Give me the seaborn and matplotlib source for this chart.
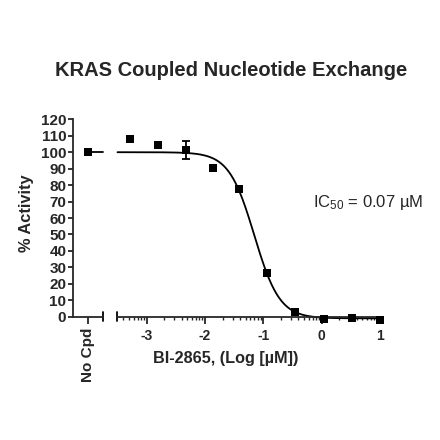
import numpy as np
import pandas as pd
import matplotlib
matplotlib.use("Agg")
import matplotlib.pyplot as plt
import seaborn as sns

# measured points, log10 of concentration in uM
log_conc = [-3.29, -2.80, -2.33, -1.86, -1.41, -0.93, -0.46, 0.04, 0.52, 1.00]
activity = [107.8, 104.6, 101.3, 90.4, 77.4, 26.4, 2.9, -1.2, -1.0, -2.0]
err = [0, 0, 5.6, 0, 0, 0, 0, 0, 0, 0]

# no compound control
ctrl_label = ["No Cpd"]
ctrl_value = [100.3]

# 4PL fit parameters (IC50 = 0.07 uM)
fit_top = 100.0
fit_bottom = -1.0
ic50_um = 0.07
hill = 2.0

y_ticks = list(range(0, 121, 10))
x_ticks = [-3, -2, -1, 0, 1]

sns.set_style("ticks")
plt.rcParams["font.family"] = ["Liberation Sans", "DejaVu Sans"]
plt.rcParams["mathtext.default"] = "regular"
plt.rcParams["axes.unicode_minus"] = False

fig = plt.figure(figsize=(4.4, 4.4), dpi=100)
W = H = 440.0
ax_l = fig.add_axes([72.5 / W, 1 - 316.7 / H, 30.5 / W, 197.4 / H])
ax = fig.add_axes([117.5 / W, 1 - 316.7 / H, 262.5 / W, 197.4 / H])

lw = 1.3
df = pd.DataFrame({"logc": log_conc, "act": activity, "err": err})

# fitted curve
xs = np.linspace(-3.5, 1.0, 400)
ys = fit_bottom + (fit_top - fit_bottom) / (1 + 10 ** ((xs - np.log10(ic50_um)) * hill))
fit = pd.DataFrame({"logc": xs, "act": ys})
sns.lineplot(data=fit, x="logc", y="act", ax=ax, color="black", linewidth=1.3,
             estimator=None, sort=True, clip_on=False)

sns.scatterplot(data=df, x="logc", y="act", ax=ax, marker="s", s=30,
                color="black", edgecolor="black", linewidth=0, clip_on=False, zorder=5)
e = df[df["err"] > 0]
ax.errorbar(e["logc"], e["act"], yerr=e["err"], fmt="none", ecolor="black",
            elinewidth=1.3, capsize=3, capthick=1.3, zorder=4)

ax.set_xlim(-3.5, 1.0)
ax.set_ylim(0, 120)
ax.set_xticks(x_ticks)
ax.set_xticklabels([str(t) for t in x_ticks])
minor = [d + np.log10(k) for d in range(-4, 1) for k in range(2, 10)]
ax.set_xticks([m for m in minor if -3.5 < m < 1.0], minor=True)
ax.set_yticks([])
for s in ["left", "top", "right"]:
    ax.spines[s].set_visible(False)
ax.spines["bottom"].set_linewidth(lw)
ax.tick_params(axis="x", which="major", direction="out", length=5, width=lw,
               labelsize=10, pad=4)
ax.tick_params(axis="x", which="minor", direction="out", length=2.5, width=1.0)
for lab in ax.get_xticklabels():
    lab.set_fontweight("bold")
ax.axvline(-3.5, ymin=-0.023, ymax=0.023, color="black", linewidth=lw, clip_on=False)
ax.set_xlabel("")
ax.set_ylabel("")

# control panel
sns.scatterplot(x=[0], y=ctrl_value, ax=ax_l, marker="s", s=30, color="black",
                linewidth=0, clip_on=False, zorder=5)
ax_l.plot([0, 0.5], [ctrl_value[0], ctrl_value[0]], color="black", linewidth=1.3,
          clip_on=False)
ax_l.set_xlim(-0.5, 0.5)
ax_l.set_ylim(0, 120)
ax_l.set_yticks(y_ticks)
ax_l.set_yticklabels([str(t) for t in y_ticks])
ax_l.set_xticks([0])
ax_l.set_xticklabels(ctrl_label, rotation=90, va="top", ha="center")
for s in ["top", "right"]:
    ax_l.spines[s].set_visible(False)
for s in ["left", "bottom"]:
    ax_l.spines[s].set_linewidth(lw)
ax_l.tick_params(axis="y", direction="out", length=3.5, width=lw, labelsize=11, pad=1)
ax_l.tick_params(axis="x", direction="out", length=5, width=lw, labelsize=11, pad=3)
for lab in ax_l.get_xticklabels() + ax_l.get_yticklabels():
    lab.set_fontweight("bold")
ax_l.axvline(0.5, ymin=-0.023, ymax=0.023, color="black", linewidth=lw, clip_on=False)
ax_l.set_xlabel("")
ax_l.set_ylabel("")

fig.text(231 / W, 1 - 71 / H, "KRAS Coupled Nucleotide Exchange", ha="center",
         va="center", fontsize=14.5, fontweight="bold")
fig.text(26 / W, 1 - 213 / H, "% Activity", rotation=90, ha="center", va="center",
         fontsize=11.8, fontweight="bold")
fig.text(226 / W, 1 - 358 / H, "BI-2865, (Log [\u00b5M])", ha="center", va="center",
         fontsize=11.7, fontweight="bold")
fig.text(312.7 / W, 1 - 202 / H, "IC$_{50}$ = 0.07 \u00b5M", ha="left", va="center",
         fontsize=12)

fig.savefig("out.png", dpi=100)
